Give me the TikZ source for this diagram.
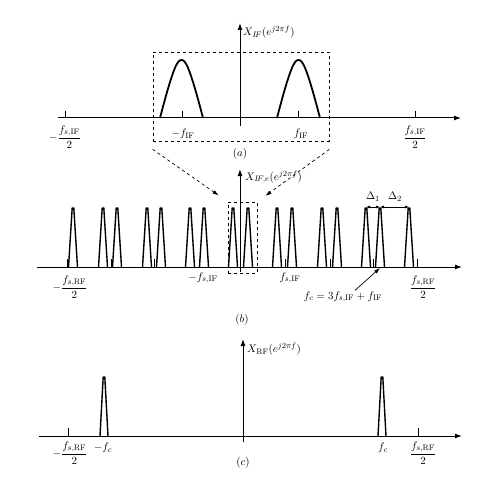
\documentclass[tikz,border=0pt]{standalone}
\usepackage{amsmath}
\usepackage{tikz}
\usetikzlibrary{arrows.meta}
\newcommand{\rfsub}{\mathrm{RF}}
\newcommand{\ifsub}{\mathrm{IF}}

\begin{document}
\begin{tikzpicture}[x=1pt, y=-1pt,
  axis/.style={line width=1pt, -{Latex[length=7pt, width=5pt]}},
  tick/.style={line width=0.6pt},
  hump/.style={line width=1.8pt, line join=round},
  spike/.style={line width=1.4pt, line join=round},
  zoombox/.style={draw, dashed, line width=0.7pt, inner sep=0pt},
  zoomarr/.style={dashed, line width=0.7pt, -{Latex[length=6pt, width=4pt]}},
  lbl/.style={inner sep=1pt, font=\fontsize{11}{13}\selectfont},
  darr/.style={line width=0.7pt, {Latex[length=4pt, width=3pt]}-{Latex[length=4pt, width=3pt]}},
  arr/.style={line width=0.7pt, -{Latex[length=6pt, width=4pt]}}]
\useasboundingbox (0,0) rectangle (481,489);
% (a)
\coordinate (a0) at (58,118); \coordinate (a1) at (461,118);
\coordinate (a2) at (240,126); \coordinate (a3) at (240,23);
\draw[axis] (a0) -- (a1); \draw[axis] (a2) -- (a3);
\foreach \x in {65,182,298,415} \draw[tick] (\x,111) -- (\x,118);
\foreach \c in {181.5,298.5}
  \draw[hump] (\c-21.5,118) .. controls (\c-8,66) and (\c-4,60) .. (\c,60)
    .. controls (\c+4,60) and (\c+8,66) .. (\c+21.5,118);
\node[zoombox, minimum width=176pt, minimum height=89pt] (boxA) at (241,96.5) {};
\node[lbl, anchor=west] (xa) at (242,32) {$X_{I\!F}(e^{j2\pi f})$};
\node[lbl] (mfa) at (183,134) {$-f_{\ifsub}$};
\node[lbl] (pfa) at (301,134) {$f_{\ifsub}$};
\node[lbl] (lfa) at (65,137) {$-\dfrac{f_{s,\ifsub}}{2}$};
\node[lbl] (rfa) at (415,137) {$\dfrac{f_{s,\ifsub}}{2}$};
\node[lbl] (capa) at (240,154) {$(a)$};
% (b)
\coordinate (b0) at (37,267); \coordinate (b1) at (462,267);
\coordinate (b2) at (240,272); \coordinate (b3) at (240,169);
\draw[axis] (b0) -- (b1); \draw[axis] (b2) -- (b3);
\foreach \x in {67,111,154,199,285,330,373,417} \draw[tick] (\x,259) -- (\x,267);
\foreach \p in {73,103,117,147,161,190,204,233,248,277,292,322,337,366,380,409}
  \draw[spike] (\p-4.5,267) -- (\p-0.8,208) -- (\p+0.8,208) -- (\p+4.5,267);
\node[zoombox, minimum width=29pt, minimum height=71pt] (boxB) at (242.5,237.5) {};
\draw[zoomarr, shorten >=11pt] ([yshift=-8pt]boxA.south west) -- (boxB.north west);
\draw[zoomarr, shorten >=10pt] ([yshift=-8pt]boxA.south east) -- (boxB.north east);
\node[lbl, anchor=west] (xb) at (244,177) {$X_{I\!F,e}(e^{j2\pi f})$};
\coordinate (d1) at (366,207); \coordinate (d2) at (380,207); \coordinate (d3) at (409,207);
\draw[darr] (d1) -- (d2); \draw[darr] (d2) -- (d3);
\node[lbl] (del1) at (373,197) {$\Delta_1$};
\node[lbl] (del2) at (395,197) {$\Delta_2$};
\node[lbl] (fc) at (343,297) {$f_c = 3f_{s,\ifsub} + f_{\ifsub}$};
\coordinate (fcpt) at (380,268);
\draw[arr] ([xshift=12pt]fc.north) -- (fcpt);
\node[lbl] (lfb) at (70,287) {$-\dfrac{f_{s,\rfsub}}{2}$};
\node[lbl] (mfb) at (203,278) {$-f_{s,\ifsub}$};
\node[lbl] (pfb) at (290,278) {$f_{s,\ifsub}$};
\node[lbl] (rfb) at (423,287) {$\dfrac{f_{s,\rfsub}}{2}$};
\node[lbl] (capb) at (242,320) {$(b)$};
% (c)
\coordinate (c0) at (39,436); \coordinate (c1) at (462,436);
\coordinate (c2) at (243,442); \coordinate (c3) at (243,339);
\draw[axis] (c0) -- (c1); \draw[axis] (c2) -- (c3);
\foreach \x in {68,418} \draw[tick] (\x,428) -- (\x,436);
\foreach \p in {104,382}
  \draw[spike] (\p-4,436) -- (\p-0.8,377) -- (\p+0.8,377) -- (\p+4,436);
\node[lbl, anchor=west] (xc) at (246,349) {$X_{\rfsub}(e^{j2\pi f})$};
\node[lbl] (lfc) at (70,453) {$-\dfrac{f_{s,\rfsub}}{2}$};
\node[lbl] (mfc) at (103,448) {$-f_c$};
\node[lbl] (pfc) at (383,448) {$f_c$};
\node[lbl] (rfc) at (423,453) {$\dfrac{f_{s,\rfsub}}{2}$};
\node[lbl] (capc) at (243,463) {$(c)$};
\end{tikzpicture}
\end{document}
